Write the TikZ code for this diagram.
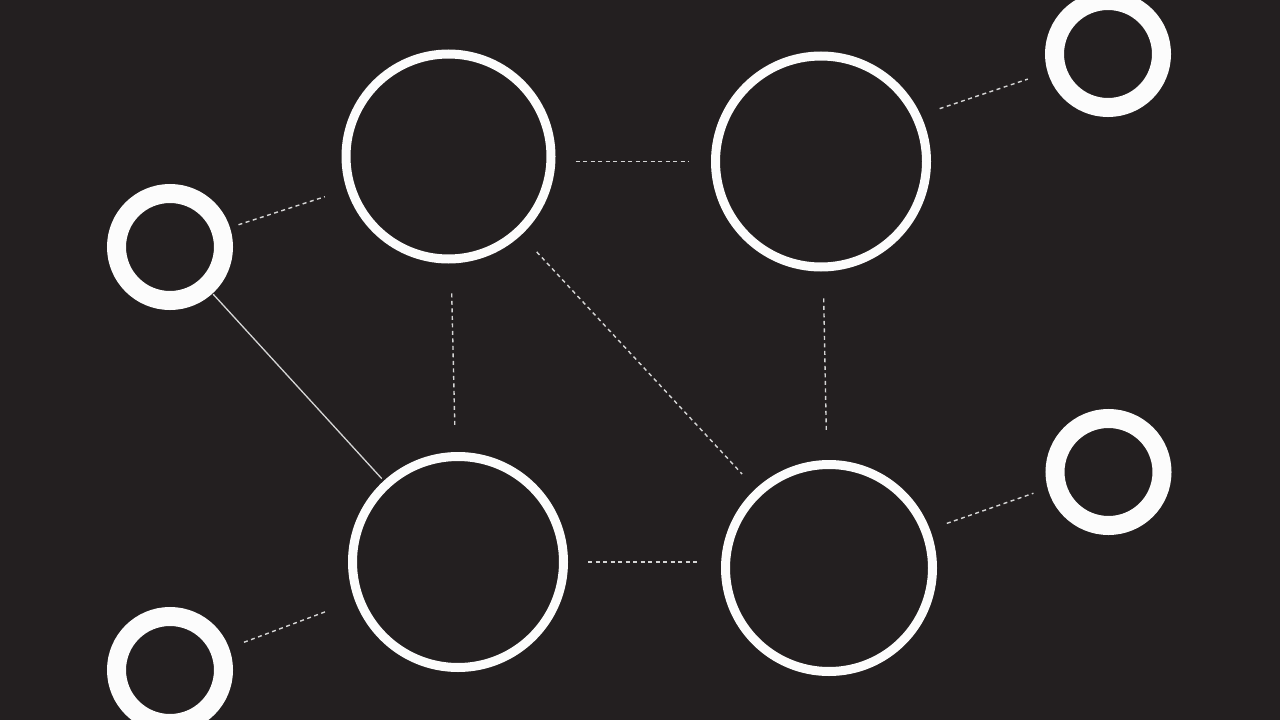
\documentclass[tikz,border=0pt]{standalone}
\begin{document}
\begin{tikzpicture}[x=1pt,y=-1pt,
  bigring/.style={circle,draw=ringwhite,line width=9pt,inner sep=0pt},
  smallring/.style={circle,draw=ringwhite,line width=19pt,inner sep=0pt,minimum size=107pt},
  dashlink/.style={draw=linkgray,line width=1.4pt,dash pattern=on 4pt off 3.5pt},
  solidlink/.style={draw=linkgray,line width=1.3pt}]
\definecolor{bgdark}{HTML}{231F20}
\definecolor{ringwhite}{HTML}{FCFCFC}
\definecolor{linkgray}{HTML}{D6D6D6}
\fill[bgdark] (0,0) rectangle (1280,720);
\useasboundingbox (0,0) rectangle (1280,720);
% big rings
\node[bigring,minimum size=205pt] (A) at (448.5,156.5) {};
\node[bigring,minimum size=211pt] (B) at (821,161.5) {};
\node[bigring,minimum size=211pt] (C) at (458,562) {};
\node[bigring,minimum size=207pt] (D) at (829,568) {};
% small rings
\node[smallring] (S1) at (170,247) {};
\node[smallring] (TR) at (1108,54) {};
\node[smallring] (R) at (1108.5,472) {};
\node[smallring] (BL) at (170,670) {};
% links
\draw[dashlink,shorten <=9pt,shorten >=23pt] (S1) -- (A);
\draw[solidlink,shorten <=1pt,shorten >=3pt] (S1) -- (C);
\draw[dashlink,shorten <=20pt,shorten >=22pt] (A.east |- B) -- (B.west);
\draw[dashlink,shorten <=30pt,shorten >=25pt] (A) -- (C);
\draw[dashlink,shorten <=23pt,shorten >=20pt] (A) -- (D);
\draw[dashlink,shorten <=27pt,shorten >=30pt] (B) -- (D);
\draw[dashlink,shorten <=20pt,shorten >=22pt] (C.east) -- (D.west |- C);
\draw[dashlink,shorten <=20pt,shorten >=21pt] (B.25) -- (TR.197);
\draw[dashlink,shorten <=18pt,shorten >=15pt] (D.21) -- (R.195);
\draw[dashlink,shorten <=16pt,shorten >=31pt] (BL) -- (C);
\end{tikzpicture}
\end{document}
